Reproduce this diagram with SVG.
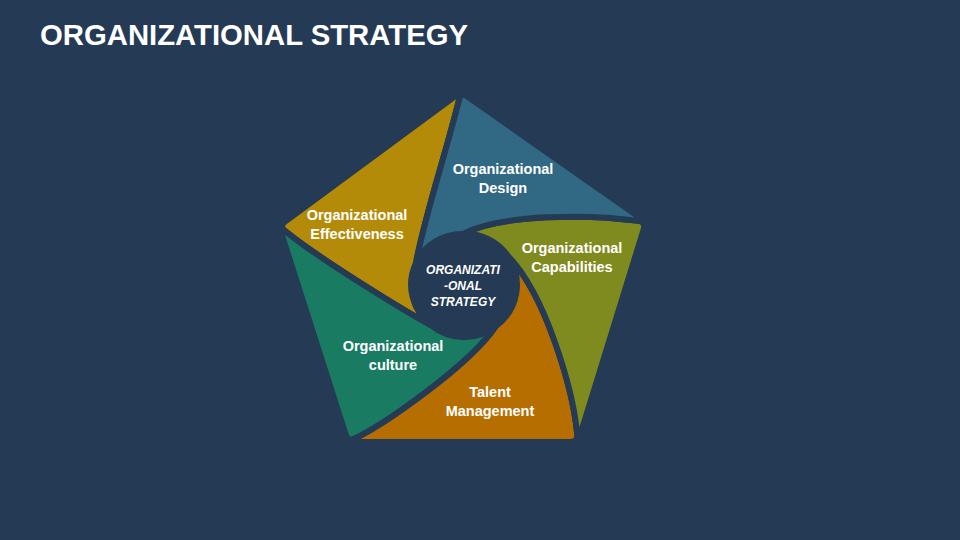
<svg xmlns="http://www.w3.org/2000/svg" width="960" height="540" viewBox="0 0 960 540">
<style>
.blade{stroke:#253A54;stroke-width:6;stroke-linejoin:round}
.lbl{font-family:"Liberation Sans",Arial,sans-serif;font-weight:bold;font-size:14.5px;fill:#FFFFFF;text-anchor:middle}
.ctr{font-family:"Liberation Sans",Arial,sans-serif;font-weight:bold;font-style:italic;font-size:12px;fill:#FFFFFF;text-anchor:middle}
.title{font-family:"Liberation Sans",Arial,sans-serif;font-weight:bold;font-size:30px;fill:#FFFFFF}
</style>
<rect x="0" y="0" width="960" height="540" fill="#253A54"/>
<text class="title" x="40" y="45" textLength="428" lengthAdjust="spacingAndGlyphs">ORGANIZATIONAL STRATEGY</text>
<g id="connectors"></g>
<g id="effectiveness">
<path class="blade" fill="#B38B08" d="M454.6,96.7 L285.4,221.3 Q279,226 285.2,231.1 C317,257 396,306 432,326 A51,51 0 0 1 416,263 C425,215 444,160 459.1,99.8 Q461,92 454.6,96.7 Z"/>
<text class="lbl" x="357" y="220">Organizational</text>
<text class="lbl" x="357" y="239">Effectiveness</text>
</g>
<g id="culture">
<path class="blade" fill="#187B62" d="M281.4,233.6 L345.6,434.4 Q348,442 355.2,438.5 C385,424 470,365 496,326 A51,51 0 0 1 432,326 C396,306 317,257 285.2,231.1 Q279,226 281.4,233.6 Z"/>
<text class="lbl" x="393" y="351">Organizational</text>
<text class="lbl" x="393" y="370">culture</text>
</g>
<g id="talent">
<path class="blade" fill="#B76E00" d="M356,442 L570,442 Q578,442 577.2,434 C573,390 546,295 508,256 A51,51 0 0 1 496,326 C470,365 385,424 355.2,438.5 Q348,442 356,442 Z"/>
<text class="lbl" x="490" y="397">Talent</text>
<text class="lbl" x="490" y="416">Management</text>
</g>
<g id="capabilities">
<path class="blade" fill="#7F8A1F" d="M580.4,434.4 L643.6,229.6 Q646,222 638.1,220.9 C590,214 500,214 463,234 A51,51 0 0 1 508,256 C546,295 573,390 577.2,434 Q578,442 580.4,434.4 Z"/>
<text class="lbl" x="572" y="253">Organizational</text>
<text class="lbl" x="572" y="272">Capabilities</text>
</g>
<g id="design">
<path class="blade" fill="#316985" d="M639.5,217.4 L467.5,96.6 Q461,92 459.1,99.8 C444,160 425,215 416,263 A51,51 0 0 1 463,234 C500,214 590,214 638.1,220.9 Q646,222 639.5,217.4 Z"/>
<text class="lbl" x="503" y="174">Organizational</text>
<text class="lbl" x="503" y="193">Design</text>
</g>
<g id="center">
<circle cx="464" cy="285" r="50" fill="#253A54"/>
<text class="ctr" x="463" y="274">ORGANIZATI</text>
<text class="ctr" x="463" y="290">-ONAL</text>
<text class="ctr" x="463" y="306">STRATEGY</text>
</g>
</svg>
